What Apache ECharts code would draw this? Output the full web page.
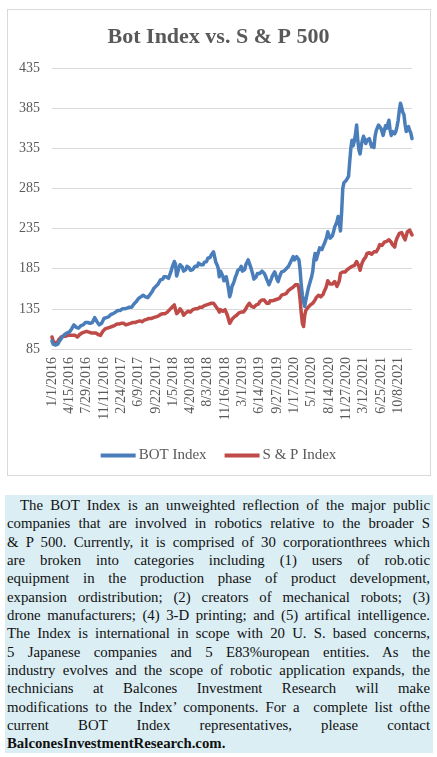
<!DOCTYPE html>
<html>
<head>
<meta charset="utf-8">
<script src="https://cdn.jsdelivr.net/npm/echarts@6/dist/echarts.min.js"></script>
<style>
  html, body { margin: 0; padding: 0; background: #ffffff; }
  #wrap { position: relative; width: 437px; height: 757px; overflow: hidden; }
  #frame { position: absolute; left: 7px; top: 9px; width: 424px; height: 467px; border: 1px solid #d9d9d9; box-sizing: border-box; }
  #chart { position: absolute; left: 0; top: 0; width: 437px; height: 490px; }
  #note { position: absolute; left: 5px; top: 495px; width: 428px; height: 258px; background: #dbeef4;
          font-family: "Liberation Serif", "DejaVu Serif", serif; font-size: 14.8px; line-height: 18.35px; color: #111; box-sizing: border-box; padding: 1px 3px 0 2px; }
  #note .l { display: block; white-space: nowrap; text-align: justify; text-align-last: justify; }
  #note .last { text-align-last: left; font-weight: bold; }
  #note .first { text-indent: 13px; }
</style>
</head>
<body>
<div id="wrap">
  <div id="frame"></div>
  <div id="chart"></div>
  <div id="note">
    <span class="l first">The BOT Index is an unweighted reflection of the major public</span>
    <span class="l">companies that are involved in robotics relative to the broader S</span>
    <span class="l">&amp; P 500. Currently, it is comprised of 30 corporationthrees which</span>
    <span class="l">are broken into categories including (1) users of rob.otic</span>
    <span class="l">equipment in the production phase of product development,</span>
    <span class="l">expansion ordistribution; (2) creators of mechanical robots; (3)</span>
    <span class="l">drone manufacturers; (4) 3-D printing; and (5) artifical intelligence.</span>
    <span class="l">The Index is international in scope with 20 U. S. based concerns,</span>
    <span class="l">5 Japanese companies and 5 E83%uropean entities. As the</span>
    <span class="l">industry evolves and the scope of robotic application expands, the</span>
    <span class="l">technicians at Balcones Investment Research will make</span>
    <span class="l">modifications to the Index’ components. For a&nbsp; complete list ofthe</span>
    <span class="l">current BOT Index representatives, please contact</span>
    <span class="l last">BalconesInvestmentResearch.com.</span>
  </div>
</div>
<script>
// Weekly closes (index values)
const botIndex = [
  95,91,89,90,88,91,93,96,98,100,
  101,103,102,105,107,106,108,110,112,115,
  113,112,110,111,113,114,116,115,117,118,
  119,118,116,117,115,118,121,124,122,119,
  117,115,113,117,120,123,125,124,126,125,
  127,128,127,129,130,131,131,133,134,133,
  134,135,136,135,137,136,135,137,138,137,
  139,141,143,144,146,148,147,150,149,152,
  151,150,148,149,150,153,155,157,160,161,
  163,163,166,168,171,170,172,175,174,175,
  174,173,177,181,186,190,194,191,176,177,
  186,190,192,187,182,180,184,188,190,186,
  183,181,184,186,188,190,188,192,194,190,
  191,190,193,195,194,198,200,199,202,204,
  206,208,193,190,186,175,182,183,176,170,
  172,175,168,160,150,155,163,166,170,175,
  178,183,182,185,188,182,180,184,190,193,
  196,192,188,183,178,172,171,175,179,178,
  179,181,182,180,179,176,172,169,165,167,
  172,176,178,181,177,172,169,174,178,181,
  183,182,184,185,187,188,190,194,197,200,
  196,194,200,199,196,184,165,152,144,138,
  146,153,160,165,170,175,182,196,204,196,
  198,206,211,212,209,213,216,217,224,231,
  227,223,221,226,231,237,240,244,250,242,
  232,255,285,292,293,295,297,300,318,335,
  345,338,344,352,364,345,333,328,338,345,
  350,346,341,345,343,347,345,337,340,336,
  350,357,359,364,366,360,356,351,357,363,
  360,365,370,358,351,356,358,353,356,362,
  370,382,391,386,380,377,365,356,358,362,
  357,354,347
];
const spIndex = [
  100,95,93,92,93,94,97,99,100,100,
  101,102,101,102,102,101,102,103,102,103,
  102,101,100,100,103,104,105,105,106,106,
  107,106,106,105,105,106,105,104,105,104,
  103,104,102,104,107,109,110,111,111,111,
  112,113,113,113,114,115,116,116,116,117,
  117,116,117,116,115,116,116,117,117,118,
  118,119,118,119,119,119,120,120,119,120,
  121,121,122,122,123,123,123,124,124,125,
  125,126,126,127,128,128,129,129,129,130,
  131,132,134,135,137,139,140,138,129,127,
  132,135,134,131,127,128,130,131,132,131,
  131,132,134,134,135,136,135,136,137,137,
  137,138,139,139,140,140,141,142,142,143,
  142,143,138,137,134,131,134,135,132,131,
  134,132,127,122,117,119,122,124,125,126,
  127,128,130,130,131,132,131,132,135,138,
  140,142,141,138,136,137,138,140,142,141,
  144,145,146,148,146,144,142,143,142,145,
  146,145,144,146,146,147,148,148,150,152,
  153,153,154,154,156,158,159,160,161,162,
  164,165,164,165,160,147,130,117,113,127,
  133,131,137,138,140,139,142,144,146,149,
  150,152,151,150,148,153,157,160,164,170,
  171,166,164,166,168,169,166,163,161,170,
  179,179,181,182,181,183,184,185,186,185,
  188,187,189,191,194,192,188,183,189,193,
  196,197,200,204,203,205,204,203,205,206,
  207,206,208,211,215,216,214,216,218,219,
  219,220,221,221,218,215,213,212,219,223,
  226,229,231,230,227,224,221,226,231,231,
  233,230,227
];
const seriesNames = ['BOT Index', 'S & P Index'];
const yTicks = { min: 85, max: 435, step: 50 };

// Weekly dates starting 1/1/2016 (one week absent around the 2019/2020 year end)
const firstDate = Date.UTC(2016, 0, 1);
const skippedAfterIndex = 208;
const categories = botIndex.map(function (_, i) {
  const weeks = i + (i > skippedAfterIndex ? 1 : 0);
  const d = new Date(firstDate + weeks * 7 * 86400000);
  return (d.getUTCMonth() + 1) + '/' + d.getUTCDate() + '/' + d.getUTCFullYear();
});

const serif = '"Liberation Serif", "DejaVu Serif", serif';
const chart = echarts.init(document.getElementById('chart'), null, { renderer: 'canvas' });
chart.setOption({
  animation: false,
  title: {
    text: 'Bot Index vs. S & P 500',
    left: 'center',
    top: 21,
    textStyle: { fontFamily: serif, fontSize: 22, fontWeight: 'bold', color: '#595959' }
  },
  legend: {
    data: seriesNames,
    left: 'center',
    top: 443,
    icon: 'rect',
    itemWidth: 35,
    itemHeight: 4,
    itemGap: 18,
    textStyle: { fontFamily: serif, fontSize: 15, color: '#595959', padding: [0, 0, 0, -2] }
  },
  grid: { left: 52, right: 25, top: 68, bottom: 141 },
  xAxis: {
    type: 'category',
    data: categories,
    boundaryGap: false,
    axisTick: { show: false },
    axisLine: { lineStyle: { color: '#d9d9d9', width: 1 } },
    axisLabel: {
      interval: 14,
      rotate: 90,
      margin: 8,
      fontFamily: serif,
      fontSize: 14,
      color: '#595959'
    },
    splitLine: { show: false }
  },
  yAxis: {
    type: 'value',
    min: yTicks.min,
    max: yTicks.max,
    interval: yTicks.step,
    axisLine: { show: false },
    axisTick: { show: false },
    axisLabel: { fontFamily: serif, fontSize: 14, color: '#595959', margin: 12 },
    splitLine: { lineStyle: { color: '#d9d9d9', width: 1 } }
  },
  series: [
    {
      name: seriesNames[0],
      type: 'line',
      data: botIndex,
      showSymbol: false,
      symbol: 'none',
      lineStyle: { color: '#4a7ebb', width: 3.5, join: 'round', cap: 'round' },
      itemStyle: { color: '#4a7ebb' },
      z: 3
    },
    {
      name: seriesNames[1],
      type: 'line',
      data: spIndex,
      showSymbol: false,
      symbol: 'none',
      lineStyle: { color: '#be4b48', width: 3.5, join: 'round', cap: 'round' },
      itemStyle: { color: '#be4b48' },
      z: 2
    }
  ]
});
</script>
</body>
</html>
